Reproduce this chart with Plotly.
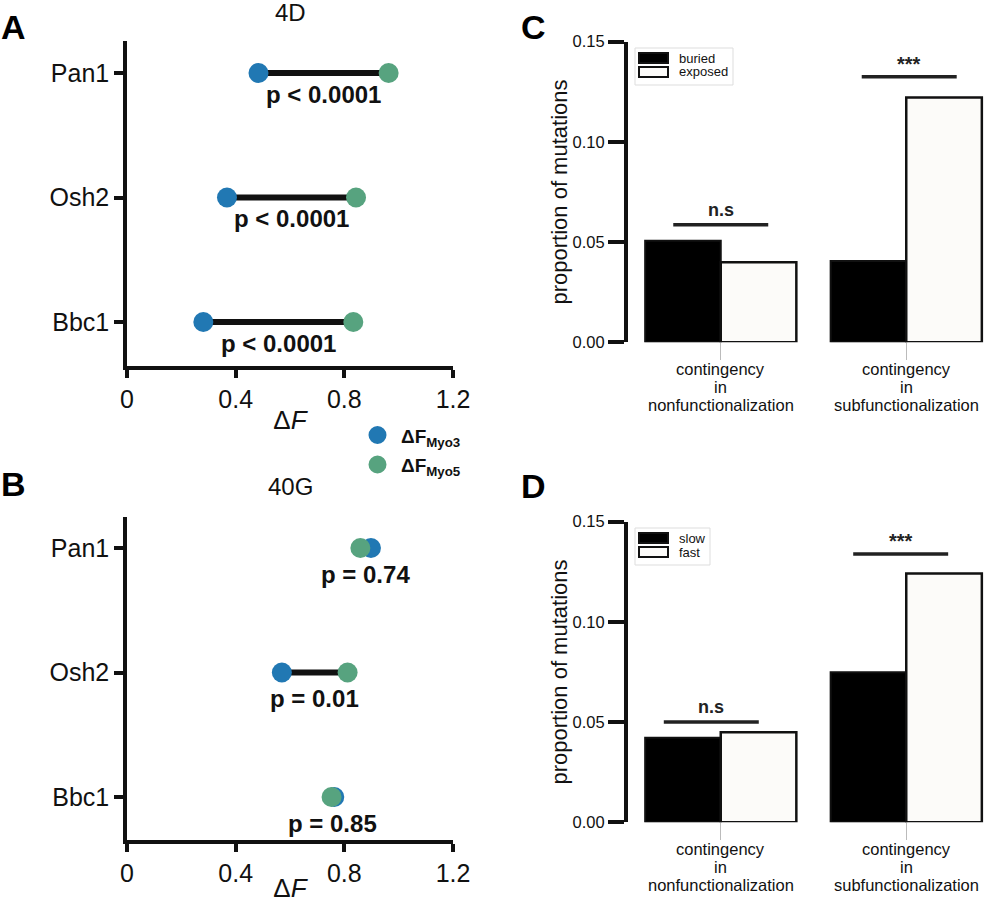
import plotly.graph_objects as go

W, H = 1000, 903
FONT = "Liberation Sans, Arial, sans-serif"
INK = "#111111"
BLUE = "#2178b3"
GREEN = "#57a37f"

# --- data, panels A / B (dumbbells) ---
genes = ["Bbc1", "Osh2", "Pan1"]
dF_myo3_4D = [0.281, 0.368, 0.484]
dF_myo5_4D = [0.833, 0.843, 0.963]
p_4D = ["p < 0.0001", "p < 0.0001", "p < 0.0001"]
dF_myo3_40G = [0.763, 0.570, 0.898]
dF_myo5_40G = [0.753, 0.812, 0.859]
p_40G = ["p = 0.85", "p = 0.01", "p = 0.74"]

# --- data, panels C / D (bars) ---
groups = [["contingency", "in", "nonfunctionalization"], ["contingency", "in", "subfunctionalization"]]
buried = [0.0507, 0.0406]
exposed = [0.0399, 0.1222]
slow = [0.0422, 0.0749]
fast = [0.0449, 0.1241]
sig_C = ["n.s", "***"]
sig_C_y = [0.0587, 0.1325]
sig_C_dx = [0.0, 0.016]
sig_D = ["n.s", "***"]
sig_D_y = [0.0500, 0.1339]
sig_D_dx = [-0.051, -0.030]


def px(x):
    return x / W


def py(y):
    return 1 - y / H


fig = go.Figure()


def dumbbell(xa, ya, myo3, myo5):
    for i in range(len(genes)):
        fig.add_trace(go.Scatter(x=[myo3[i], myo5[i]], y=[i, i], mode="lines",
                                 line=dict(color=INK, width=6), xaxis=xa, yaxis=ya,
                                 showlegend=False, hoverinfo="skip"))
    fig.add_trace(go.Scatter(x=myo3, y=list(range(len(genes))), mode="markers",
                             marker=dict(color=BLUE, size=20), xaxis=xa, yaxis=ya,
                             name="ΔF Myo3", showlegend=False))
    fig.add_trace(go.Scatter(x=myo5, y=list(range(len(genes))), mode="markers",
                             marker=dict(color=GREEN, size=20), xaxis=xa, yaxis=ya,
                             name="ΔF Myo5", showlegend=False))


dumbbell("x", "y", dF_myo3_4D, dF_myo5_4D)
dumbbell("x2", "y2", dF_myo3_40G, dF_myo5_40G)


def bars(xa, ya, a, b):
    fig.add_trace(go.Bar(x=[0, 1], y=a, marker=dict(color="#000000", line=dict(color=INK, width=2)),
                         xaxis=xa, yaxis=ya, showlegend=False))
    fig.add_trace(go.Bar(x=[0, 1], y=b, marker=dict(color="#fcfbf9", line=dict(color=INK, width=2.5)),
                         xaxis=xa, yaxis=ya, showlegend=False))


bars("x3", "y3", buried, exposed)
bars("x4", "y4", slow, fast)

dx_common = dict(range=[0, 1.2], tickvals=[0, 0.4, 0.8, 1.2], ticktext=["0", "0.4", "0.8", "1.2"],
                 showline=True, linewidth=3.5, linecolor=INK, ticks="outside", ticklen=8,
                 tickwidth=3.5, tickcolor=INK, showgrid=False, zeroline=False, automargin=False,
                 tickfont=dict(size=25, color=INK, family=FONT),
                 title=dict(text="Δ<i>F</i>", font=dict(size=26, color=INK, family=FONT), standoff=0))
dy_common = dict(tickvals=[0, 1, 2], ticktext=genes, showline=True, linewidth=3.5, linecolor=INK,
                 ticks="outside", ticklen=9, tickwidth=3.5, tickcolor=INK, showgrid=False,
                 zeroline=False, automargin=False, tickfont=dict(size=25, color=INK, family=FONT))

bx_common = dict(range=[-0.5, 1.5], tickvals=[0, 1], showticklabels=False, showline=False,
                 ticks="outside", ticklen=17, tickwidth=1, tickcolor="#bbbbbb", automargin=False,
                 showgrid=False, zeroline=False)
by_common = dict(range=[0, 0.15], tickvals=[0, 0.05, 0.10, 0.15], tickformat=".2f",
                 showline=True, linewidth=4, linecolor=INK, ticks="outside", ticklen=16,
                 tickwidth=4, tickcolor=INK, showgrid=False, zeroline=False, automargin=False,
                 tickfont=dict(size=16.5, color=INK, family=FONT),
                 title=dict(text="proportion of mutations", font=dict(size=22, color=INK, family=FONT),
                            standoff=0))

fig.update_layout(
    template="none",
    width=W, height=H, margin=dict(l=0, r=0, t=0, b=0, autoexpand=False),
    paper_bgcolor="white", plot_bgcolor="white", font=dict(family=FONT, color=INK),
    barmode="group", bargap=0.185, bargroupgap=0,
    xaxis=dict(domain=[px(127), px(453)], anchor="y", **dx_common),
    yaxis=dict(domain=[py(366), py(41)], anchor="x", range=[-0.353, 2.257], **dy_common),
    xaxis2=dict(domain=[px(127), px(453)], anchor="y2", **dx_common),
    yaxis2=dict(domain=[py(840), py(517)], anchor="x2", range=[-0.345, 2.249], **dy_common),
    xaxis3=dict(domain=[px(628), px(999)], anchor="y3", **bx_common),
    yaxis3=dict(domain=[py(342.3), py(41.7)], anchor="x3", **by_common),
    xaxis4=dict(domain=[px(628), px(999)], anchor="y4", **bx_common),
    yaxis4=dict(domain=[py(822.3), py(521.7)], anchor="x4", **by_common),
    showlegend=False,
)

ann = []
shapes = []


def note(text, x, y, size, xanchor="center", color=INK, **kw):
    ann.append(dict(x=px(x), y=py(y), xref="paper", yref="paper", text=text, showarrow=False,
                    xanchor=xanchor, yanchor="middle", font=dict(size=size, color=color, family=FONT), **kw))


# p-value labels
for xa, ya, m3, m5, pv, shift in [("x", "y", dF_myo3_4D, dF_myo5_4D, p_4D, -21),
                                   ("x2", "y2", dF_myo3_40G, dF_myo5_40G, p_40G, -26)]:
    for i in range(len(genes)):
        ann.append(dict(x=(m3[i] + m5[i]) / 2, y=i, xref=xa, yref=ya, text="<b>%s</b>" % pv[i],
                        showarrow=False, xanchor="center", yanchor="middle", yshift=shift,
                        font=dict(size=24, color=INK, family=FONT)))

# category labels under the bars, one line each
for xa, base in [("x3", 342.3), ("x4", 822.3)]:
    for i, lines in enumerate(groups):
        for k, line in enumerate(lines):
            ann.append(dict(x=i, y=py(base + 27 + 18 * k), xref=xa, yref="paper", text=line,
                            showarrow=False, xanchor="center", yanchor="middle",
                            font=dict(size=16.5, color=INK, family=FONT)))

# significance bars
for xa, ya, lab, ys, dxs in [("x3", "y3", sig_C, sig_C_y, sig_C_dx), ("x4", "y4", sig_D, sig_D_y, sig_D_dx)]:
    for i in range(2):
        shapes.append(dict(type="line", xref=xa, yref=ya, x0=i + dxs[i] - 0.256, x1=i + dxs[i] + 0.256,
                           y0=ys[i], y1=ys[i], line=dict(color="#222222", width=3.5)))
        ann.append(dict(x=i + dxs[i], y=ys[i], xref=xa, yref=ya, text="<b>%s</b>" % lab[i],
                        showarrow=False, xanchor="center", yanchor="bottom",
                        yshift=3 if lab[i] == "n.s" else 0,
                        font=dict(size=18 if lab[i] == "n.s" else 20, color="#222222", family=FONT)))

# titles and panel letters
note("4D", 290, 13, 24)
note("40G", 290, 486, 24)
for t, x, y in [("A", 13, 27), ("B", 13, 484), ("C", 533, 27), ("D", 533, 486)]:
    note("<b>%s</b>" % t, x, y, 34, color="#000000")

# dot legend (A/B)
for col, lab, yc in [(BLUE, "Myo3", 435), (GREEN, "Myo5", 464.5)]:
    shapes.append(dict(type="circle", xref="paper", yref="paper", x0=px(368.5), x1=px(386.5),
                       y0=py(yc + 9), y1=py(yc - 9), fillcolor=col, line=dict(width=0)))
    note("<b>ΔF<sub>%s</sub></b>" % lab, 399, yc + 3, 19, xanchor="left")

# bar legends (C/D)
for (bx0, by0, bx1, by1), names in [((635, 48, 733, 85), ["buried", "exposed"]),
                                    ((635, 528, 710, 565), ["slow", "fast"])]:
    shapes.append(dict(type="rect", xref="paper", yref="paper", x0=px(bx0), x1=px(bx1),
                       y0=py(by1), y1=py(by0), line=dict(color="#dddddd", width=1), fillcolor="white"))
    for k, (nm, fc) in enumerate(zip(names, ["#000000", "#fcfbf9"])):
        top = by0 + 5 + k * 14
        shapes.append(dict(type="rect", xref="paper", yref="paper", x0=px(639), x1=px(668),
                           y0=py(top + 10), y1=py(top), fillcolor=fc, line=dict(color=INK, width=2)))
        note(nm, 677, top + 5, 13, xanchor="left")

fig.update_layout(annotations=ann, shapes=shapes)
# drop the browser's default 8px body margin so the figure sits at the page corner
fig.write_html("out.html", config={"displayModeBar": False},
               post_script="document.body.style.margin='0px';")
